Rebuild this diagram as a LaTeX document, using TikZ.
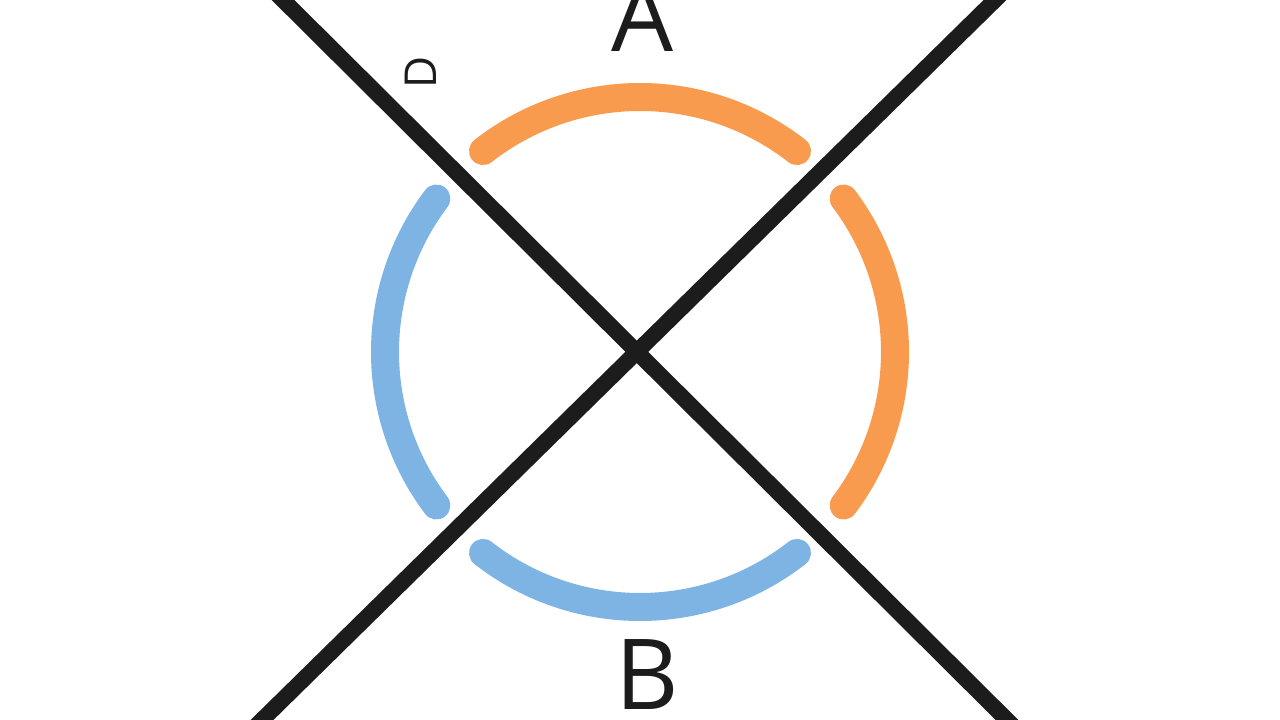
\documentclass[tikz,border=0pt]{standalone}
\usepackage{fontspec}
\setmainfont{Open Sans}
\definecolor{ink}{HTML}{1C1C1C}
\definecolor{warm}{HTML}{F89B4E}
\definecolor{cool}{HTML}{7EB4E4}
\begin{document}
\begin{tikzpicture}[x=1pt,y=1pt,
  axisline/.style={draw=ink,line width=16pt,shorten <=-30pt,shorten >=-30pt},
  arcpiece/.style={line width=28pt,line cap=round},
  biglabel/.style={font=\fontsize{98}{98}\selectfont,text=ink,anchor=base,inner sep=0pt},
  smalllabel/.style={font=\fontsize{44}{44}\selectfont,text=ink,inner sep=0pt,rotate=90}]
\useasboundingbox (0,0) rectangle (1280,720);
\clip (0,0) rectangle (1280,720);
\fill[white] (0,0) rectangle (1280,720);
\coordinate (C) at (640,368);
\coordinate (l1a) at (283,720);
\coordinate (l1b) at (1007,0);
\coordinate (l2a) at (995,720);
\coordinate (l2b) at (262,0);
\draw[axisline] (l1a) -- (l1b);
\draw[axisline] (l2a) -- (l2b);
\draw[arcpiece,warm] (C) ++(52:255) arc[start angle=52,end angle=128,radius=255];
\draw[arcpiece,warm] (C) ++(-37:255) arc[start angle=-37,end angle=37,radius=255];
\draw[arcpiece,cool] (C) ++(143:255) arc[start angle=143,end angle=217,radius=255];
\draw[arcpiece,cool] (C) ++(232:255) arc[start angle=232,end angle=308,radius=255];
\node[biglabel] (labA) at (643,668) {A};
\node[biglabel] (labB) at (647,10) {B};
\node[smalllabel] (labD) at (421,648) {D};
\end{tikzpicture}
\end{document}
